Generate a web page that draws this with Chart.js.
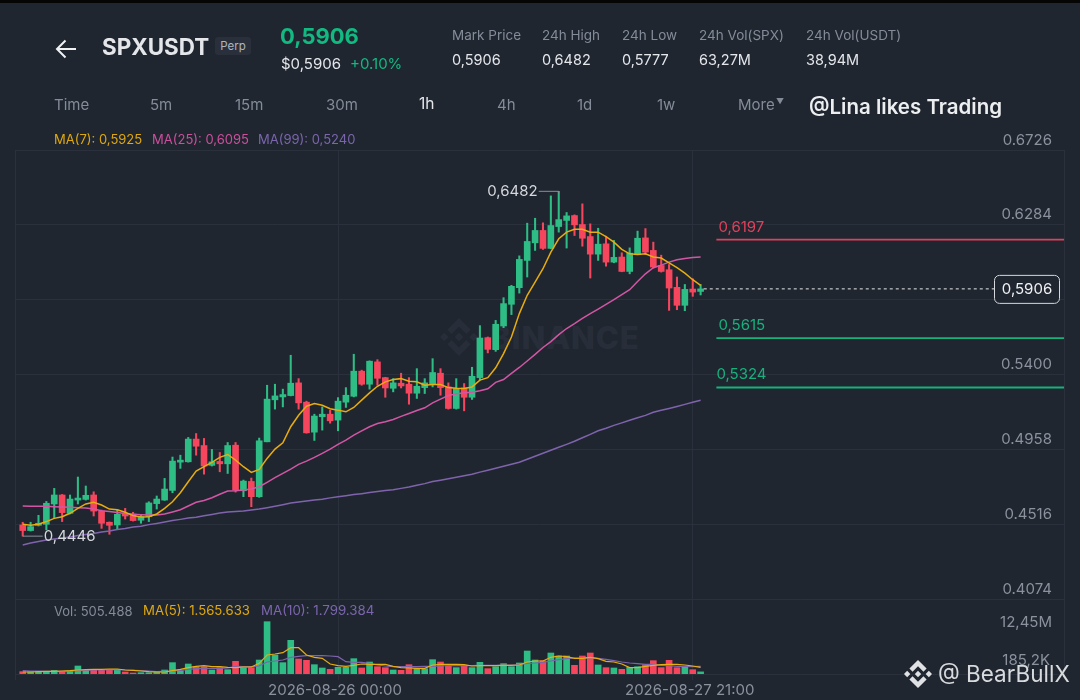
<!DOCTYPE html>
<html><head><meta charset="utf-8">
<script src="https://cdn.jsdelivr.net/npm/chart.js@4/dist/chart.umd.min.js"></script>
<style>
html,body{margin:0;padding:0;background:#1f2630;width:1080px;height:700px;overflow:hidden;font-family:Inter,"Noto Sans",sans-serif}
#topbar{position:absolute;left:0;top:0;width:1080px;height:3px;background:#050505}
canvas{position:absolute;left:0;top:0;z-index:2}
.t{position:absolute;white-space:nowrap;z-index:3;line-height:1;transform:translateY(-50%)}
.g{color:#848c99}.w{color:#e4e6ea}.up{color:#12b981}
svg{position:absolute}
#wm{position:absolute;left:490px;top:337px;z-index:1;transform:translateY(-50%);font-size:31px;font-weight:800;letter-spacing:1px;color:#282e39;line-height:1}
</style></head><body>
<div id="topbar"></div>
<svg style="left:440px;top:318px;z-index:1" width="38" height="38" viewBox="0 0 126.61 126.61"><path fill="#282e39" d="M38.73 53.2l24.59-24.58 24.6 24.6 14.3-14.31L63.32 0 24.43 38.9zM0 63.31l14.3-14.31 14.31 14.31-14.31 14.3zM38.73 73.41l24.59 24.59 24.6-24.6 14.31 14.29-38.9 38.91-38.91-38.88zM98 63.31l14.3-14.31 14.31 14.3-14.31 14.32zM77.83 63.3L63.32 48.78 52.59 59.51l-1.24 1.23-2.54 2.54 14.51 14.5 14.51-14.52z"/></svg>
<div id="wm">BINANCE</div>
<canvas id="c" width="1080" height="700"></canvas>
<svg style="left:55px;top:38px;z-index:3" width="23" height="22" viewBox="0 0 23 22"><path d="M21 11H2M10.5 2.5L2 11l8.5 8.5" fill="none" stroke="#f0f1f3" stroke-width="2"/></svg>
<div class="t w" style="left:102px;top:47px;font-size:22.4px;font-weight:700">SPXUSDT</div>
<div class="t" style="left:215px;top:46px;width:36px;height:18px;line-height:18px;background:#2a303b;border-radius:3px;text-align:center;font-size:11.5px;color:#b0b5bd">Perp</div>
<div class="t up" style="left:280px;top:36px;font-size:22px;font-weight:700">0,5906</div>
<div class="t w" style="left:281px;top:63px;font-size:15px">$0,5906</div>
<div class="t up" style="left:350px;top:63px;font-size:15px">+0.10%</div>
<div class="t g" style="left:452px;top:36px;font-size:13.5px">Mark Price</div><div class="t w" style="left:452px;top:60px;font-size:14.5px">0,5906</div>
<div class="t g" style="left:542px;top:36px;font-size:13.5px">24h High</div><div class="t w" style="left:542px;top:60px;font-size:14.5px">0,6482</div>
<div class="t g" style="left:622px;top:36px;font-size:13.5px">24h Low</div><div class="t w" style="left:622px;top:60px;font-size:14.5px">0,5777</div>
<div class="t g" style="left:699px;top:36px;font-size:13.5px">24h Vol(SPX)</div><div class="t w" style="left:699px;top:60px;font-size:14.5px">63,27M</div>
<div class="t g" style="left:806px;top:36px;font-size:13.5px">24h Vol(USDT)</div><div class="t w" style="left:806px;top:60px;font-size:14.5px">38,94M</div>
<div class="t g" style="left:54px;top:104px;font-size:15px">Time</div>
<div class="t g" style="left:150px;top:104px;font-size:15px">5m</div>
<div class="t g" style="left:235px;top:104px;font-size:15px">15m</div>
<div class="t g" style="left:326px;top:104px;font-size:15px">30m</div>
<div class="t w" style="left:419px;top:104px;font-size:15.5px">1h</div>
<div class="t g" style="left:497px;top:104px;font-size:15px">4h</div>
<div class="t g" style="left:577px;top:104px;font-size:15px">1d</div>
<div class="t g" style="left:657px;top:104px;font-size:15px">1w</div>
<div class="t g" style="left:738px;top:104px;font-size:15px">More</div>
<div class="t g" style="left:776px;top:101px;font-size:8px">&#9660;</div>
<div class="t" style="left:809px;top:107px;font-size:20.5px;font-weight:600;color:#eceef0">@Lina likes Trading</div>
<div class="t" style="left:54px;top:139px;font-size:13px;color:#e0a80f">MA(7): 0,5925</div>
<div class="t" style="left:152px;top:139px;font-size:13px;color:#cc4f9c">MA(25): 0,6095</div>
<div class="t" style="left:258px;top:139px;font-size:13px;color:#7b65ad">MA(99): 0,5240</div>
<div class="t g" style="left:54px;top:611px;font-size:13px">Vol: 505.488</div>
<div class="t" style="left:143px;top:611px;font-size:13.2px;color:#e0a80f">MA(5): 1.565.633</div>
<div class="t" style="left:261px;top:611px;font-size:13.3px;color:#7b65ad">MA(10): 1.799.384</div>
<svg style="left:904px;top:660px;z-index:3" width="28" height="28" viewBox="0 0 126.61 126.61"><path fill="#dfe1e4" d="M38.73 53.2l24.59-24.58 24.6 24.6 14.3-14.31L63.32 0 24.43 38.9zM0 63.31l14.3-14.31 14.31 14.31-14.31 14.3zM38.73 73.41l24.59 24.59 24.6-24.6 14.31 14.29-38.9 38.91-38.91-38.88zM98 63.31l14.3-14.31 14.31 14.3-14.31 14.32zM77.83 63.3L63.32 48.78 52.59 59.51l-1.24 1.23-2.54 2.54 14.51 14.5 14.51-14.52z"/></svg>
<div class="t" style="left:938px;top:674px;font-size:22.5px;color:#d8dadd">@ BearBullX</div>
<script>
const candleOpen=[.4512,.4479,.4510,.4516,.4636,.4689,.4581,.4659,.4663,.4689,.4594,.4528,.4512,.4581,.4577,.4540,.4561,.4638,.4659,.4716,.4883,.4885,.5019,.4981,.4864,.4887,.4873,.4983,.4714,.4769,.4679,.5003,.5251,.5268,.5276,.5351,.5237,.5060,.5151,.5166,.5131,.5237,.5272,.5420,.5343,.5475,.5382,.5319,.5349,.5343,.5290,.5323,.5343,.5408,.5327,.5200,.5321,.5266,.5382,.5618,.5547,.5687,.5815,.5913,.6074,.6178,.6251,.6145,.6274,.6310,.6339,.6286,.6215,.6111,.6172,.6064,.6094,.6009,.6113,.6207,.6133,.6044,.6019,.5915,.5809,.5905,.5891];
const candleHigh=[.4528,.4528,.4569,.4651,.4728,.4692,.4689,.4795,.4742,.4708,.4600,.4530,.4600,.4610,.4587,.4571,.4649,.4683,.4787,.4913,.4924,.5029,.5052,.5023,.4958,.4940,.4999,.4999,.4777,.4789,.5025,.5337,.5343,.5314,.5514,.5376,.5243,.5166,.5209,.5190,.5264,.5323,.5520,.5426,.5481,.5488,.5384,.5376,.5408,.5382,.5435,.5376,.5494,.5435,.5351,.5376,.5347,.5443,.5689,.5622,.5720,.5854,.5927,.6101,.6294,.6323,.6296,.6455,.6482,.6357,.6343,.6408,.6290,.6264,.6217,.6192,.6119,.6148,.6247,.6262,.6182,.6105,.6050,.5976,.5932,.5966,.5932];
const candleLow=[.4446,.4476,.4506,.4483,.4551,.4532,.4577,.4636,.4659,.4565,.4492,.4457,.4486,.4547,.4535,.4522,.4532,.4606,.4657,.4702,.4846,.4883,.4924,.4812,.4860,.4826,.4816,.4706,.4679,.4620,.4675,.5003,.5196,.5209,.5274,.5196,.5054,.5011,.5072,.5113,.5068,.5206,.5268,.5337,.5314,.5337,.5266,.5298,.5321,.5225,.5259,.5288,.5327,.5278,.5196,.5196,.5186,.5253,.5367,.5528,.5537,.5677,.5754,.5881,.5976,.6133,.6139,.6143,.6241,.6147,.6221,.6158,.5970,.6074,.6040,.6060,.6007,.5995,.6109,.6109,.6029,.6005,.5779,.5783,.5777,.5862,.5870];
const candleClose=[.4479,.4502,.4522,.4640,.4689,.4585,.4665,.4669,.4687,.4594,.4522,.4510,.4575,.4565,.4538,.4561,.4642,.4665,.4724,.4889,.4893,.5019,.4977,.4860,.4885,.4873,.4981,.4718,.4771,.4679,.5009,.5255,.5274,.5282,.5349,.5233,.5056,.5155,.5166,.5127,.5243,.5278,.5420,.5343,.5479,.5378,.5321,.5351,.5333,.5290,.5331,.5351,.5412,.5323,.5200,.5318,.5266,.5390,.5616,.5549,.5697,.5819,.5921,.6080,.6186,.6251,.6145,.6280,.6315,.6337,.6284,.6205,.6111,.6170,.6064,.6092,.6009,.6117,.6205,.6123,.6035,.6009,.5911,.5809,.5903,.5887,.5906];
const volumeM=[.56,.56,.63,.63,.87,.63,.71,1.90,.87,.95,.87,1.03,1.03,.48,.24,.32,.32,.40,.95,2.70,.79,2.38,1.74,1.74,.95,1.51,1.03,3.01,1.51,1.51,3.33,12.45,4.52,2.70,8.01,3.57,3.25,2.22,1.43,1.11,1.59,1.59,3.65,1.43,2.85,1.74,1.51,.95,.87,2.22,1.35,1.27,3.41,2.85,1.90,1.51,1.90,1.51,2.78,1.27,1.74,2.46,1.74,2.62,5.47,3.33,3.17,5.00,4.28,4.28,2.06,4.28,5.00,2.14,1.51,1.43,1.11,1.59,1.74,2.22,3.17,1.51,3.25,1.51,1.74,1.03,.505];
const ma7=[.4516,.4510,.4516,.4532,.4551,.4561,.4581,.4610,.4636,.4646,.4630,.4606,.4602,.4587,.4567,.4559,.4561,.4577,.4610,.4649,.4702,.4767,.4830,.4856,.4881,.4911,.4928,.4895,.4856,.4822,.4840,.4905,.4960,.4997,.5092,.5160,.5213,.5229,.5219,.5198,.5190,.5180,.5206,.5249,.5292,.5331,.5357,.5371,.5376,.5361,.5357,.5337,.5341,.5341,.5323,.5319,.5318,.5327,.5367,.5382,.5440,.5524,.5622,.5760,.5868,.5946,.6025,.6123,.6202,.6241,.6258,.6258,.6241,.6241,.6215,.6182,.6139,.6113,.6109,.6113,.6094,.6088,.6060,.6031,.5999,.5960,.5927];
const ma25=[.4624,.4622,.4622,.4622,.4620,.4618,.4616,.4614,.4612,.4606,.4596,.4591,.4585,.4579,.4575,.4573,.4571,.4571,.4577,.4589,.4602,.4624,.4646,.4657,.4673,.4693,.4712,.4714,.4718,.4724,.4738,.4764,.4791,.4817,.4842,.4870,.4889,.4911,.4935,.4960,.4988,.5013,.5043,.5068,.5092,.5111,.5121,.5135,.5153,.5170,.5188,.5204,.5233,.5255,.5276,.5286,.5292,.5296,.5304,.5316,.5354,.5371,.5407,.5442,.5480,.5519,.5560,.5595,.5636,.5672,.5701,.5732,.5760,.5787,.5815,.5842,.5872,.5901,.5950,.5995,.6031,.6046,.6064,.6078,.6086,.6091,.6094];
const ma99=[.4394,.4405,.4414,.4423,.4429,.4435,.4441,.4450,.4455,.4461,.4470,.4476,.4485,.4491,.4500,.4505,.4514,.4521,.4529,.4538,.4545,.4553,.4558,.4567,.4574,.4582,.4588,.4591,.4594,.4600,.4606,.4614,.4623,.4632,.4641,.4647,.4653,.4659,.4664,.4672,.4679,.4685,.4692,.4697,.4703,.4709,.4715,.4720,.4728,.4736,.4747,.4756,.4768,.4776,.4785,.4794,.4803,.4812,.4824,.4835,.4847,.4859,.4871,.4882,.4900,.4918,.4935,.4953,.4971,.4988,.5006,.5027,.5047,.5068,.5083,.5100,.5115,.5130,.5145,.5159,.5177,.5189,.5200,.5212,.5224,.5236,.5248];
const volMa5=[.48,.48,.56,.63,.63,.71,.79,.95,1.03,1.11,1.11,1.19,1.19,.95,.87,.71,.56,.48,.48,.79,1.11,1.51,1.82,1.98,1.74,1.74,1.59,1.51,1.67,1.67,2.54,4.52,4.76,5.08,6.26,6.26,4.52,3.97,3.73,2.38,1.98,1.82,2.06,2.38,2.30,2.30,2.30,1.82,1.51,1.43,1.35,1.35,2.14,2.30,2.30,2.30,2.22,1.90,1.98,1.98,1.98,2.06,2.06,2.14,2.85,3.09,3.09,3.97,4.28,4.12,3.73,3.73,3.97,3.65,3.01,2.85,2.38,1.51,1.51,1.82,2.06,2.22,2.30,2.30,2.14,1.90,1.57];
const volMa10=[.79,.71,.71,.63,.63,.63,.71,.79,.87,.95,.95,1.03,1.03,.95,.87,.79,.71,.56,.63,.71,.87,1.11,1.27,1.35,1.35,1.35,1.43,1.82,1.74,1.74,1.90,2.85,3.09,3.33,3.97,4.20,4.36,4.36,4.36,4.28,4.12,2.93,2.78,2.78,2.54,2.14,1.90,1.74,1.74,1.74,1.74,1.82,1.82,1.90,1.98,1.98,1.98,1.98,2.06,2.06,2.06,2.14,2.14,2.22,2.54,2.62,2.78,3.09,3.41,3.65,3.81,3.81,3.89,3.73,3.49,3.17,2.85,2.62,2.46,2.30,2.30,2.06,1.98,1.82,1.82,1.74,1.80];
const priceTicks=[.6726,.6284,.5842,.5400,.4958,.4516,.4074,.3632];
const priceTickLabels=["0.6726","0.6284","","0.5400","0.4958","0.4516","0.4074",""];
const xTickIndex=[-0.98,40,85,132.1];
const xTickLabels=["","2026-08-26 00:00","2026-08-27 21:00",""];
const levelValues=[.6197,.5615,.5324];
const levelLabels=["0,6197","0,5615","0,5324"];
const levelColors=["#e0405a","#16b27c","#16b27c"];
const lastPrice=.5906;

const UP="#2ebd85",DOWN="#f6465d",GRID="#2a313c",FONT="Inter";
const idx=candleOpen.map((_,i)=>i);
const colors=idx.map(i=>candleClose[i]>=candleOpen[i]?UP:DOWN);
const pts=a=>a.map((y,i)=>({x:i,y}));
const levelDatasets=levelValues.map((v,k)=>({type:"line",data:[{x:88,y:v},{x:xTickIndex[3],y:v}],borderColor:levelColors[k],borderWidth:1.9,pointRadius:0,order:0,yAxisID:"y"}));

const overlay={id:"overlay",afterDatasetsDraw(ch){
  const c=ch.ctx,X=ch.scales.x,Y=ch.scales.y;c.save();
  c.textBaseline="middle";
  c.font="15px "+FONT;
  levelValues.forEach((v,k)=>{c.fillStyle=levelColors[k];c.textAlign="left";
    c.fillText(levelLabels[k],X.getPixelForValue(88)+(k==2?0:2),Y.getPixelForValue(v)-12.5);});
  c.strokeStyle="#8a8f98";c.lineWidth=1;c.fillStyle="#d5d8dc";
  const xh=X.getPixelForValue(68),yh=Y.getPixelForValue(Math.max(...candleHigh));
  c.beginPath();c.moveTo(xh,yh+2);c.lineTo(xh,yh);c.lineTo(xh-20,yh);c.stroke();
  c.textAlign="right";c.fillText("0,6482",xh-21,yh);
  const xl=X.getPixelForValue(0),yl=Y.getPixelForValue(Math.min(...candleLow));
  c.beginPath();c.moveTo(xl,yl);c.lineTo(xl+20,yl);c.stroke();
  c.textAlign="left";c.fillText("0,4446",xl+21,yl);
  const py=Y.getPixelForValue(lastPrice),bx=994,bw=65,bh=28;
  c.beginPath();c.roundRect(bx+.5,py-bh/2+.5,bw,bh,5);c.fillStyle="#1f2630";c.fill();
  c.strokeStyle="#d5d8dc";c.stroke();
  c.fillStyle="#f0f1f3";c.textAlign="center";c.fillText("0,5906",bx+bw/2+.5,py+1);
  c.font="15px "+FONT;c.fillStyle="#8b929e";c.textAlign="right";
  c.fillText("12,45M",1052,622);c.fillText("185,2K",1050,660);
  c.restore();
}};

new Chart(document.getElementById("c"),{
  data:{datasets:[
    {type:"line",data:pts(ma7),borderColor:"#e8ad0e",borderWidth:1.5,pointRadius:0,order:0,yAxisID:"y"},
    {type:"line",data:pts(ma25),borderColor:"#d356a5",borderWidth:1.5,pointRadius:0,order:0,yAxisID:"y"},
    {type:"line",data:pts(ma99),borderColor:"#7f63ad",borderWidth:1.5,pointRadius:0,order:0,yAxisID:"y"},
    ...levelDatasets,
    {type:"line",data:[{x:86.4,y:lastPrice},{x:123.3,y:lastPrice}],borderColor:"#e8eaec",borderWidth:1,borderDash:[3,3],pointRadius:0,order:0,yAxisID:"y"},
    {type:"bar",data:idx.map(i=>({x:i,y:[Math.min(candleOpen[i],candleClose[i]),Math.max(candleOpen[i],candleClose[i])]})),backgroundColor:colors,barThickness:6,minBarLength:2,grouped:false,order:1,yAxisID:"y"},
    {type:"bar",data:idx.map(i=>({x:i,y:[candleLow[i],candleHigh[i]]})),backgroundColor:colors,barThickness:1.4,grouped:false,order:2,yAxisID:"y"},
    {type:"line",data:pts(volMa5),borderColor:"#e8ad0e",borderWidth:1.2,pointRadius:0,order:0,yAxisID:"yVol"},
    {type:"line",data:pts(volMa10),borderColor:"#7f63ad",borderWidth:1.2,pointRadius:0,order:0,yAxisID:"yVol"},
    {type:"bar",data:pts(volumeM),backgroundColor:colors,barThickness:6,grouped:false,order:3,yAxisID:"yVol"}
  ]},
  plugins:[overlay],
  options:{
    responsive:false,animation:false,events:[],
    layout:{padding:{left:15,right:16,top:150,bottom:0}},
    plugins:{legend:{display:false},tooltip:{enabled:false}},
    scales:{
      x:{type:"linear",min:xTickIndex[0],max:xTickIndex[3],offset:false,
        afterBuildTicks(s){s.ticks=xTickIndex.map(value=>({value}));},
        afterFit(s){s.height=26;},
        grid:{offset:false,color:GRID,lineWidth:1,tickLength:6,tickColor:GRID},border:{display:false},
        ticks:{autoSkip:false,maxRotation:0,padding:1,labelOffset:-3,color:"#8b929e",font:{family:FONT,size:15},callback:v=>xTickLabels[xTickIndex.indexOf(v)]}},
      y:{position:"right",min:priceTicks[7],max:priceTicks[0],
        afterBuildTicks(s){s.ticks=priceTicks.map(value=>({value}));},
        afterFit(s){s.width=0;},
        grid:{color:GRID,lineWidth:1,drawTicks:false},border:{display:false},
        ticks:{mirror:true,padding:-12,labelOffset:-10,color:"#8b929e",font:{family:FONT,size:15},autoSkip:false,callback:v=>priceTickLabels[priceTicks.indexOf(v)]}},
      yVol:{position:"right",min:0,max:124.7,display:false}
    }
  }
});
</script>
</body></html>
